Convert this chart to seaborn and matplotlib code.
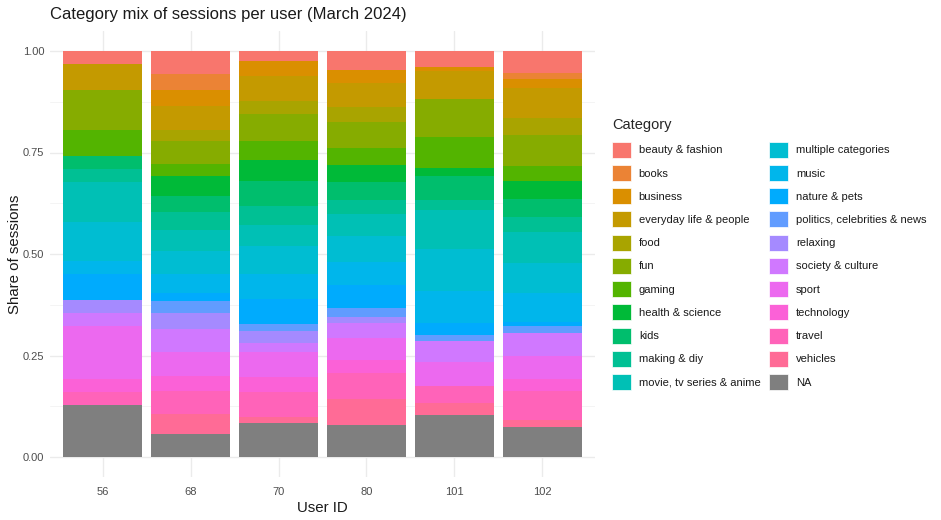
import numpy as np
import pandas as pd
import matplotlib
matplotlib.use("Agg")
import matplotlib.pyplot as plt
from matplotlib.patches import Patch
import seaborn as sns

users = ["56", "68", "70", "80", "101", "102"]
categories = ["beauty & fashion", "books", "business", "everyday life & people", "food", "fun",
              "gaming", "health & science", "kids", "making & diy", "movie, tv series & anime",
              "multiple categories", "music", "nature & pets", "politics, celebrities & news",
              "relaxing", "society & culture", "sport", "technology", "travel", "vehicles", "NA"]

# share of sessions (%) per category, same order as `categories`
share_56 = [3.2, 0, 0, 6.5, 0, 9.7, 6.5, 0, 3.2, 3.2, 9.7, 9.7, 3.2, 6.5, 0, 3.2, 3.2, 12.9, 3.2, 3.2, 0, 12.9]
share_68 = [5.7, 3.9, 3.9, 6.0, 2.7, 5.6, 3.0, 4.8, 4.0, 4.6, 5.1, 5.6, 4.8, 1.9, 3.0, 3.9, 5.6, 5.9, 3.7, 5.7, 5.0, 5.6]
share_70 = [2.4, 0, 3.8, 6.0, 3.2, 6.8, 4.6, 5.3, 6.2, 4.5, 5.3, 6.8, 6.3, 6.1, 1.6, 3.0, 2.2, 6.1, 3.9, 6.1, 1.5, 8.3]
share_80 = [4.7, 0, 3.3, 5.7, 3.7, 6.5, 4.2, 4.2, 4.5, 3.4, 5.3, 6.5, 5.6, 5.8, 2.2, 1.5, 3.5, 5.6, 3.2, 6.3, 6.4, 7.9]
share_101 = [3.9, 0, 1.0, 6.9, 0, 9.5, 7.5, 2.0, 6.0, 2.3, 9.7, 10.2, 8.1, 2.8, 1.5, 0, 5.1, 5.9, 0, 4.4, 2.9, 10.3]
share_102 = [5.3, 1.7, 2.2, 7.4, 4.1, 7.7, 3.5, 4.6, 4.5, 3.5, 7.6, 7.6, 7.0, 1.0, 1.8, 0, 5.5, 5.8, 3.0, 7.1, 1.8, 7.3]

y_ticks = [0.0, 0.25, 0.5, 0.75, 1.0]
y_tick_labels = ["0.00", "0.25", "0.50", "0.75", "1.00"]


def hcl_hex(h, c=100.0, l=65.0):
    hr = np.deg2rad(h)
    U, V = c * np.cos(hr), c * np.sin(hr)
    Xn, Yn, Zn = 95.047, 100.0, 108.883
    un = 4 * Xn / (Xn + 15 * Yn + 3 * Zn)
    vn = 9 * Yn / (Xn + 15 * Yn + 3 * Zn)
    Y = Yn * ((l + 16) / 116) ** 3 if l > 8 else Yn * l / 903.3
    u = U / (13 * l) + un
    v = V / (13 * l) + vn
    X = 9.0 * Y * u / (4 * v)
    Z = -X / 3 - 5 * Y + 3 * Y / v
    X, Y, Z = X / 100, Y / 100, Z / 100
    rgb = [3.240479 * X - 1.537150 * Y - 0.498535 * Z,
           -0.969256 * X + 1.875992 * Y + 0.041556 * Z,
           0.055648 * X - 0.204043 * Y + 1.057311 * Z]
    out = []
    for t in rgb:
        t = 12.92 * t if t <= 0.0031308 else 1.055 * t ** (1 / 2.4) - 0.055
        out.append(min(max(t, 0), 1))
    return matplotlib.colors.to_hex(out)


n_cat = len(categories) - 1
hues = np.linspace(15, 375, n_cat + 1)[:-1]
palette = [hcl_hex(h) for h in hues] + ["#7F7F7F"]
pal = dict(zip(categories, palette))

rows = []
for u, vals in zip(users, [share_56, share_68, share_70, share_80, share_101, share_102]):
    tot = sum(vals)
    for cat, v in zip(categories, vals):
        rows.append({"user": u, "category": cat, "share": v / tot})
df = pd.DataFrame(rows)

sns.set_theme(style="white")
plt.rcParams["font.family"] = ["Liberation Sans", "DejaVu Sans"]

W, H = 941, 520
fig = plt.figure(figsize=(W / 100, H / 100), dpi=100)
left, right, top, bottom = 50, 595, 30.7, 477.3
ax = fig.add_axes([left / W, 1 - bottom / H, (right - left) / W, (bottom - top) / H])

sns.histplot(data=df, x="user", hue="category", weights="share", multiple="stack",
             discrete=True, shrink=0.9, hue_order=categories, palette=pal,
             linewidth=0, alpha=1, legend=False, ax=ax)

ax.set_xlim(-0.6, len(users) - 0.4)
ax.set_ylim(-0.05, 1.05)
ax.set_yticks(y_ticks)
ax.set_yticklabels(y_tick_labels)
ax.set_yticks([0.125, 0.375, 0.625, 0.875], minor=True)
ax.set_xticks(range(len(users)))
ax.set_xticklabels(users)
ax.grid(which="major", color="#EBEBEB", linewidth=1.0)
ax.grid(which="minor", axis="y", color="#F2F2F2", linewidth=0.6)
ax.set_axisbelow(True)
for s in ax.spines.values():
    s.set_visible(False)
ax.tick_params(axis="both", which="both", length=0, labelsize=8, labelcolor="#4D4D4D")
ax.tick_params(axis="y", pad=4)
ax.tick_params(axis="x", pad=7)
ax.set_xlabel("User ID", fontsize=10.8, color="#1A1A1A", labelpad=3)
ax.set_ylabel("Share of sessions", fontsize=10.8, color="#1A1A1A", labelpad=1)

fig.text(left / W, 1 - 15 / H, "Category mix of sessions per user (March 2024)",
         fontsize=12, color="#1A1A1A", ha="left", va="center")

handles = [Patch(facecolor=pal[c], edgecolor="white", linewidth=0.5) for c in categories]
leg = fig.legend(handles, categories, ncol=2, loc="upper left",
                 bbox_to_anchor=(612 / W, 1 - 118 / H), frameon=False,
                 title="Category", title_fontsize=10.5, fontsize=8,
                 handlelength=1.71, handleheight=1.84, labelspacing=0.65,
                 handletextpad=0.7, columnspacing=0.8, borderpad=0, borderaxespad=0,
                 alignment="left")
leg._legend_box.sep = 7
for t in leg.get_texts():
    t.set_color("#1A1A1A")

fig.savefig("out.png", dpi=100)
